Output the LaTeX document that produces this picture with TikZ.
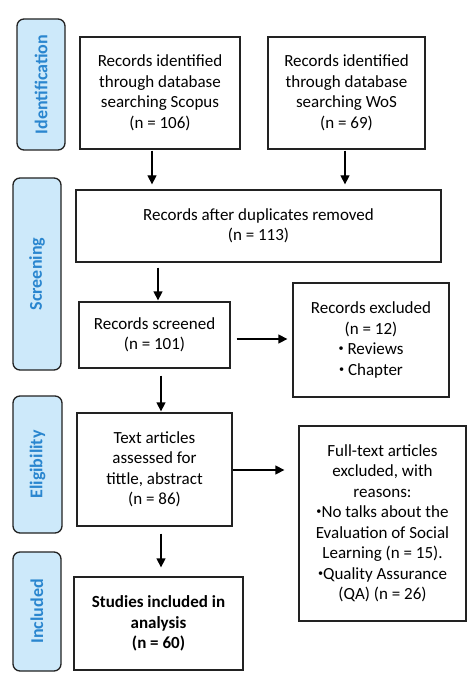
\documentclass[tikz,border=0pt]{standalone}
\usepackage{fontspec}
\setmainfont{Carlito}
\usetikzlibrary{arrows.meta,calc}
\definecolor{tabfill}{HTML}{CDE9FA}
\definecolor{tabtext}{HTML}{2A86CF}
\definecolor{edge}{HTML}{222222}
\newcommand{\bul}{\raisebox{0.4ex}{\scalebox{0.6}{\textbullet}}}
\tikzset{
  box/.style={draw=edge, line width=1.3pt, fill=white, align=center, inner sep=2pt,
    font=\fontsize{17}{20.5}\selectfont},
  tab/.style={draw=edge, line width=1.3pt, fill=tabfill, rounded corners=7pt},
  tablabel/.style={text=tabtext, font=\fontsize{18}{20}\selectfont\bfseries, rotate=90},
  arr/.style={line width=1.3pt, draw=black, -{Triangle[length=9pt,width=9pt]}}
}
\begin{document}
\begin{tikzpicture}[x=1pt,y=-1pt]
\useasboundingbox[fill=white] (0,0) rectangle (474,676);
% tabs
\node[tab, minimum width=48pt, minimum height=131pt] (tid) at (41,84.5) {};
\node[tablabel] (lid) at (tid.center) {Identification};
\node[tab, minimum width=48pt, minimum height=192pt] (tsc) at (37,274) {};
\node[tablabel] (lsc) at (tsc.center) {Screening};
\node[tab, minimum width=49pt, minimum height=137pt] (tel) at (37.5,464.5) {};
\node[tablabel] (lel) at (tel.center) {Eligibility};
\node[tab, minimum width=48pt, minimum height=119pt] (tin) at (37,611.5) {};
\node[tablabel] (lin) at (tin.center) {Included};
% boxes
\node[box, minimum width=160pt, minimum height=112pt] (scopus) at (160,93)
  {Records identified\\through database\\searching Scopus\\(n = 106)};
\node[box, minimum width=157pt, minimum height=112pt] (wos) at (346.5,93)
  {Records identified\\through database\\searching WoS\\(n = 69)};
\node[box, minimum width=365pt, minimum height=72pt] (dup) at (258.5,226)
  {Records after duplicates removed\\(n = 113)};
\node[box, minimum width=151pt, minimum height=66pt] (scr) at (154.5,335)
  {Records screened\\(n = 101)};
\node[box, minimum width=156pt, minimum height=114pt] (exc) at (371,340)
  {Records excluded\\(n = 12)\\\bul\ Reviews\\\bul\ Chapter};
\node[box, minimum width=155pt, minimum height=113pt] (txt) at (154.5,469.5)
  {Text articles\\assessed for\\tittle, abstract\\(n = 86)};
\node[box, minimum width=167pt, minimum height=195pt] (full) at (382.5,523.5)
  {Full-text articles\\excluded, with\\reasons:\\\bul No talks about the\\Evaluation of Social\\Learning (n = 15).\\\bul Quality Assurance\\(QA) (n = 26)};
\node[box, minimum width=169pt, minimum height=93pt, font=\fontsize{17}{20.5}\selectfont\bfseries] (stu) at (158.5,623.5)
  {Studies included in\\analysis\\(n = 60)};
% arrows
\draw[arr] ([xshift=-8pt,yshift=-1pt]scopus.south) -- ([xshift=-8pt,yshift=5pt]scopus.south |- dup.north);
\draw[arr] ([xshift=-1.5pt,yshift=-1pt]wos.south) -- ([xshift=-1.5pt,yshift=5pt]wos.south |- dup.north);
\draw[arr] ([xshift=-100.5pt,yshift=-5pt]dup.south) -- ([xshift=3.5pt,yshift=1pt]scr.north);
\draw[arr] ([shift={(6pt,-4pt)}]scr.east) -- ([shift={(-5pt,-4pt)}]scr.east -| exc.west);
\draw[arr] ([xshift=6.5pt,yshift=-7pt]scr.south) -- ([xshift=6.5pt,yshift=1pt]txt.north);
\draw[arr] ([yshift=-0.5pt]txt.east) -- ([shift={(-14pt,-0.5pt)}]txt.east -| full.west);
\draw[arr] ([xshift=6.5pt,yshift=-7pt]txt.south) -- ([xshift=2.5pt,yshift=9pt]stu.north);
\end{tikzpicture}
\end{document}
